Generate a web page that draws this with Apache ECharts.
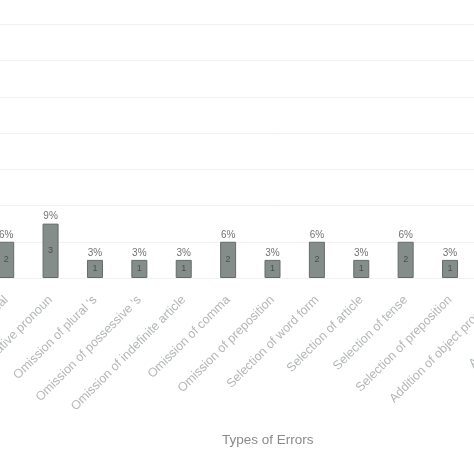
<!DOCTYPE html>
<html>
<head>
<meta charset="utf-8">
<script src="https://cdn.jsdelivr.net/npm/echarts@6/dist/echarts.min.js"></script>
<style>
html,body{margin:0;padding:0;background:#fff;overflow:hidden;width:474px;height:474px;position:relative;}
#c{position:absolute;left:-16px;top:-12px;width:577px;height:490px;}
</style>
</head>
<body>
<div id="c"></div>
<script>
const categories = [
  "Omission of modal",
  "Omission of relative pronoun",
  "Omission of plural 's",
  "Omission of possessive 's",
  "Omission of indefinite article",
  "Omission of comma",
  "Omission of preposition",
  "Selection of word form",
  "Selection of article",
  "Selection of tense",
  "Selection of preposition",
  "Addition of object pronoun",
  "Addition of article"
];
const counts = [2, 3, 1, 1, 1, 2, 1, 2, 1, 2, 1, 1, 1];
const percentLabels = ["6%", "9%", "3%", "3%", "3%", "6%", "3%", "6%", "3%", "6%", "3%", "3%", "3%"];
const yTicks = { min: 0, max: 16, interval: 2 };

const chart = echarts.init(document.getElementById('c'));
chart.setOption({
  animation: false,
  textStyle: { fontFamily: 'Liberation Sans' },
  grid: { left: 0, width: 577, top: 0, height: 290, containLabel: false, outerBoundsMode: 'none' },
  graphic: [{
    type: 'text', left: 238, top: 445,
    style: { text: 'Types of Errors', fill: '#8a8a8a', fontSize: 13.5, fontFamily: 'Liberation Sans' }
  }],
  xAxis: {
    type: 'category',
    data: categories,
    axisLine: { show: false },
    axisTick: { show: false },
    axisLabel: { rotate: 45, margin: 20, fontSize: 12.5, color: '#b3b7b6', interval: 0, hideOverlap: false }
  },
  yAxis: {
    type: 'value',
    min: yTicks.min, max: yTicks.max, interval: yTicks.interval,
    axisLabel: { show: false },
    axisLine: { show: false },
    axisTick: { show: false },
    splitLine: { lineStyle: { color: '#f1f1f1', width: 1 } }
  },
  series: [
    {
      type: 'bar',
      data: counts,
      barWidth: 16,
      itemStyle: { color: '#858d8a', borderColor: '#646b69', borderWidth: 1 },
      label: { show: true, position: 'inside', fontSize: 9, color: '#4a4f4e' }
    },
    {
      type: 'bar',
      data: counts,
      barWidth: 16,
      barGap: '-100%',
      itemStyle: { color: 'transparent' },
      silent: true,
      label: {
        show: true, position: 'top', distance: 2, fontSize: 10, color: '#6e7371',
        formatter: p => percentLabels[p.dataIndex]
      }
    }
  ]
});
</script>
</body>
</html>
